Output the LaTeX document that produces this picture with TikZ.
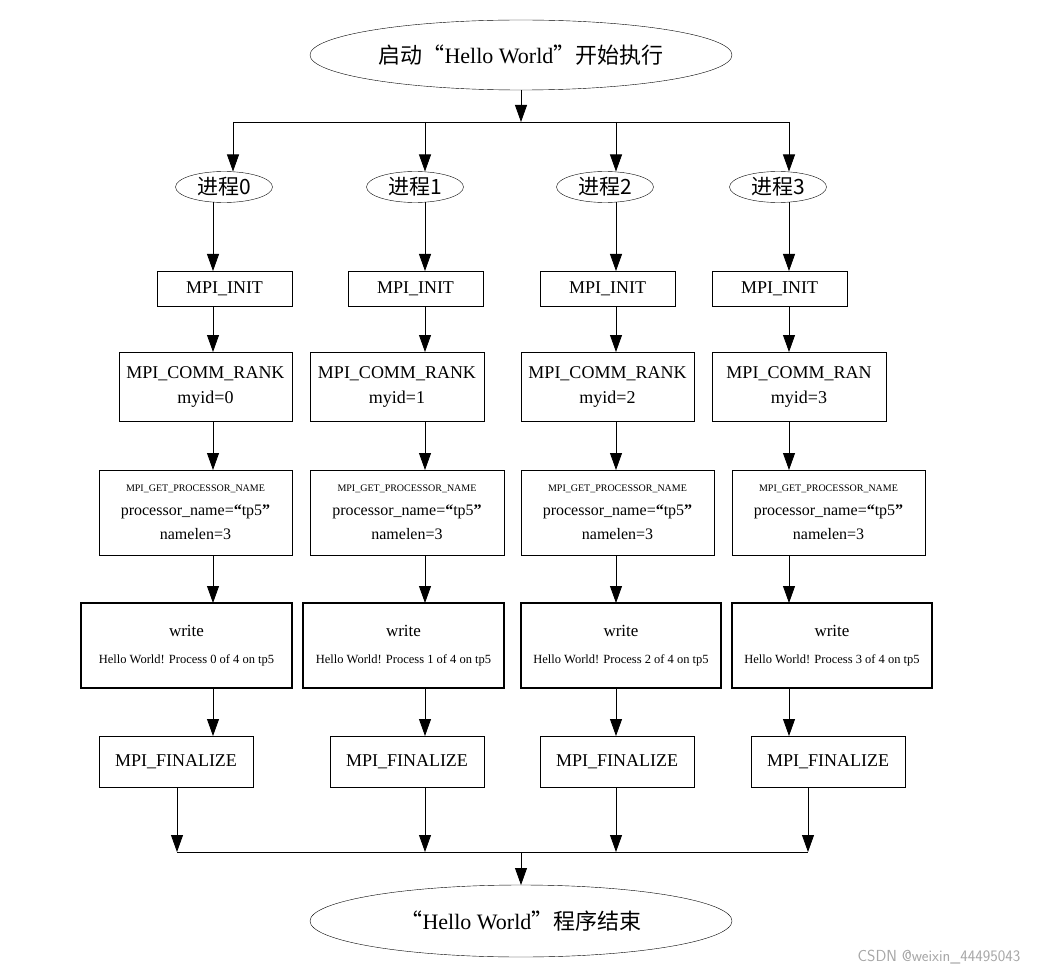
\documentclass[tikz,border=0pt]{standalone}
\usepackage{fontspec}
\setmainfont{Liberation Serif}
\newfontfamily\cjk{Noto Sans CJK SC}
\usetikzlibrary{arrows.meta,positioning,shapes.geometric,calc}
\tikzset{
  oval/.style={draw=black,ellipse,inner sep=0pt,outer sep=0pt,align=center},
  box/.style={draw=black,thick,inner sep=0pt,outer sep=0pt,align=center,font=\fontsize{18}{25}\selectfont},
  wbox/.style={box,line width=2pt},
  arrow/.style={-{Triangle[length=17pt,width=12pt]},thick,draw=black},
  line/.style={thick,draw=black}
}
\begin{document}
\begin{tikzpicture}[x=1pt,y=-1pt]
  \useasboundingbox (0,0) rectangle (1038,976);
  \node (start) [oval,minimum width=422pt,minimum height=70pt,font=\fontsize{22}{26}\selectfont] at (521,55) {{\cjk 启动“}Hello World{\cjk ”开始执行}};
  \node (stop) [oval,minimum width=422pt,minimum height=72pt,font=\fontsize{22}{26}\selectfont] at (521,921) {{\cjk “}Hello World{\cjk ”程序结束}};

  % fork and join lines
  \coordinate (fork) at (521,122);
  \coordinate (forkL) at (233,122);
  \coordinate (forkR) at (789,122);
  \coordinate (join) at (521,852);
  \coordinate (joinL) at (177,852);
  \coordinate (joinR) at (808,852);
  \draw[arrow] (start) -- (fork);
  \draw[line] (forkL) -- (forkR);
  \draw[line] (joinL) -- (joinR);
  \draw[arrow] (join) -- (stop);

  % one column per process
  \foreach \i/\ex/\tx/\ax/\il/\rl/\rr/\pl/\pr/\wl/\wr/\fl/\fr/\bx/\rank in
    {0/224/233/213/157/119/292/99/292/81/292/99/253/177/MPI\_COMM\_RANK,
     1/415/425/425/348/310/484/310/504/303/504/330/484/425/MPI\_COMM\_RANK,
     2/605/616/616/540/521/694/521/714/521/721/540/694/616/MPI\_COMM\_RANK,
     3/778/789/789/712/712/886/732/925/732/932/751/905/808/MPI\_COMM\_RAN} {
    \node (proc\i) [oval,minimum width=97pt,minimum height=31pt,font=\fontsize{21}{24}\cjk] at (\ex,187) {进程\i};
    \node (init\i) [box,minimum width=135pt,minimum height=35pt] at ({\il+67.5},288.5) {MPI\_INIT};
    \node (rank\i) [box,minimum width={(\rr-\rl)*1pt},minimum height=69pt] at ({(\rl+\rr)/2},386.5) {\rank\\myid=\i};
    \node (name\i) [box,minimum width={(\pr-\pl)*1pt},minimum height=85pt,font=\fontsize{16}{24}\selectfont] at ({(\pl+\pr)/2},512.5) {{\fontsize{10}{12}\selectfont MPI\_GET\_PROCESSOR\_NAME}\\processor\_name=\textbf{“}tp5\textbf{”}\\namelen=3};
    \node (write\i) [wbox,minimum width={(\wr-\wl)*1pt},minimum height=85pt,font=\fontsize{17}{27}\selectfont] at ({(\wl+\wr)/2},645.5) {write\\{\fontsize{12.5}{14}\selectfont Hello World! Process \i{} of 4 on tp5}};
    \node (fin\i) [box,minimum width={(\fr-\fl)*1pt},minimum height=51pt] at ({(\fl+\fr)/2},761.5) {MPI\_FINALIZE};
    \coordinate (top\i) at (\tx,122);
    \coordinate (col\i) at (\ax,0);
    \coordinate (bot\i) at (\bx,852);
    \draw[arrow] (top\i) -- (top\i |- proc\i.north);
    \draw[arrow] (proc\i.south -| col\i) -- (init\i.north -| col\i);
    \draw[arrow] (init\i.south -| col\i) -- (rank\i.north -| col\i);
    \draw[arrow] (rank\i.south -| col\i) -- (name\i.north -| col\i);
    \draw[arrow] (name\i.south -| col\i) -- (write\i.north -| col\i);
    \draw[arrow] (write\i.south -| col\i) -- (fin\i.north -| col\i);
    \draw[arrow] (fin\i.south -| bot\i) -- (bot\i);
  }
  \node (mark) [anchor=east,text=gray!70,font=\fontsize{16}{18}\sffamily] at (1024,957) {CSDN @weixin\_44495043};
\end{tikzpicture}
\end{document}
